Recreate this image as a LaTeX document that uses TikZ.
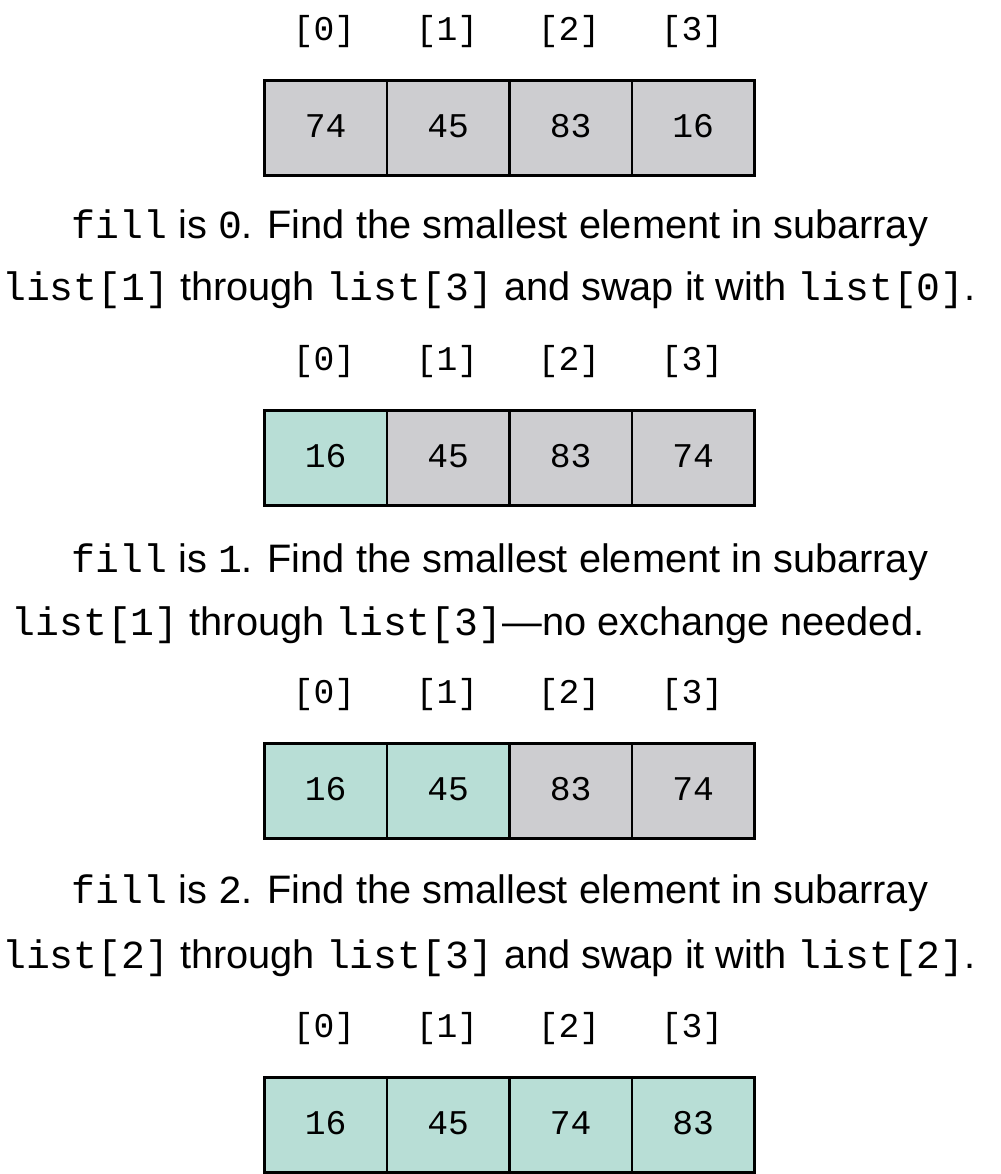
\documentclass[tikz,border=0pt]{standalone}
\usepackage{fontspec}
\setmainfont{Liberation Sans}
\setmonofont{Liberation Mono}
\definecolor{cellgray}{RGB}{205,205,208}
\definecolor{cellteal}{RGB}{184,222,214}
\tikzset{
 cell/.style={draw=black,line width=2.2pt,minimum width=122.5*0.75pt,minimum height=95*0.75pt,inner sep=0pt,text height=14pt,text depth=0pt,font=\ttfamily\fontsize{26}{30}\selectfont,anchor=north west},
 idx/.style={font=\ttfamily\fontsize{26}{30}\selectfont},
 txt/.style={font=\fontsize{29.8}{34}\selectfont,inner sep=0pt}
}
\begin{document}
\begin{tikzpicture}[x=0.75pt,y=-0.75pt]
\useasboundingbox (0,0) rectangle (1000,1174);
\newcommand{\arr}[6]{%
 \node[idx] (i0#1) at (324,#2-47) {[0]};
 \node[idx] (i1#1) at (447,#2-47) {[1]};
 \node[idx] (i2#1) at (569,#2-47) {[2]};
 \node[idx] (i3#1) at (692,#2-47) {[3]};
 \node[cell,fill=#3] (c0#1) at (263,#2) {\csname arrv#1a\endcsname};
 \node[cell,fill=#4] (c1#1) at (385.5,#2) {\csname arrv#1b\endcsname};
 \node[cell,fill=#5] (c2#1) at (508,#2) {\csname arrv#1c\endcsname};
 \node[cell,fill=#6] (c3#1) at (630.5,#2) {\csname arrv#1d\endcsname};
}
\expandafter\def\csname arrvAa\endcsname{74}\expandafter\def\csname arrvAb\endcsname{45}\expandafter\def\csname arrvAc\endcsname{83}\expandafter\def\csname arrvAd\endcsname{16}
\expandafter\def\csname arrvBa\endcsname{16}\expandafter\def\csname arrvBb\endcsname{45}\expandafter\def\csname arrvBc\endcsname{83}\expandafter\def\csname arrvBd\endcsname{74}
\expandafter\def\csname arrvCa\endcsname{16}\expandafter\def\csname arrvCb\endcsname{45}\expandafter\def\csname arrvCc\endcsname{83}\expandafter\def\csname arrvCd\endcsname{74}
\expandafter\def\csname arrvDa\endcsname{16}\expandafter\def\csname arrvDb\endcsname{45}\expandafter\def\csname arrvDc\endcsname{74}\expandafter\def\csname arrvDd\endcsname{83}
\arr{A}{79}{cellgray}{cellgray}{cellgray}{cellgray}
\arr{B}{409}{cellteal}{cellgray}{cellgray}{cellgray}
\arr{C}{742}{cellteal}{cellteal}{cellgray}{cellgray}
\arr{D}{1076}{cellteal}{cellteal}{cellteal}{cellteal}
\node[txt] (t1) at (500,228) {\texttt{fill} is \texttt{0}. Find the smallest element in subarray};
\node[txt] (t2) at (489,290) {\texttt{list[1]} through \texttt{list[3]} and swap it with \texttt{list[0]}.};
\node[txt] (t3) at (500,562) {\texttt{fill} is \texttt{1}. Find the smallest element in subarray};
\node[txt] (t4) at (468,625) {\texttt{list[1]} through \texttt{list[3]}---no exchange needed.};
\node[txt] (t5) at (500,893) {\texttt{fill} is \texttt{2}. Find the smallest element in subarray};
\node[txt] (t6) at (489,958) {\texttt{list[2]} through \texttt{list[3]} and swap it with \texttt{list[2]}.};
\end{tikzpicture}
\end{document}
